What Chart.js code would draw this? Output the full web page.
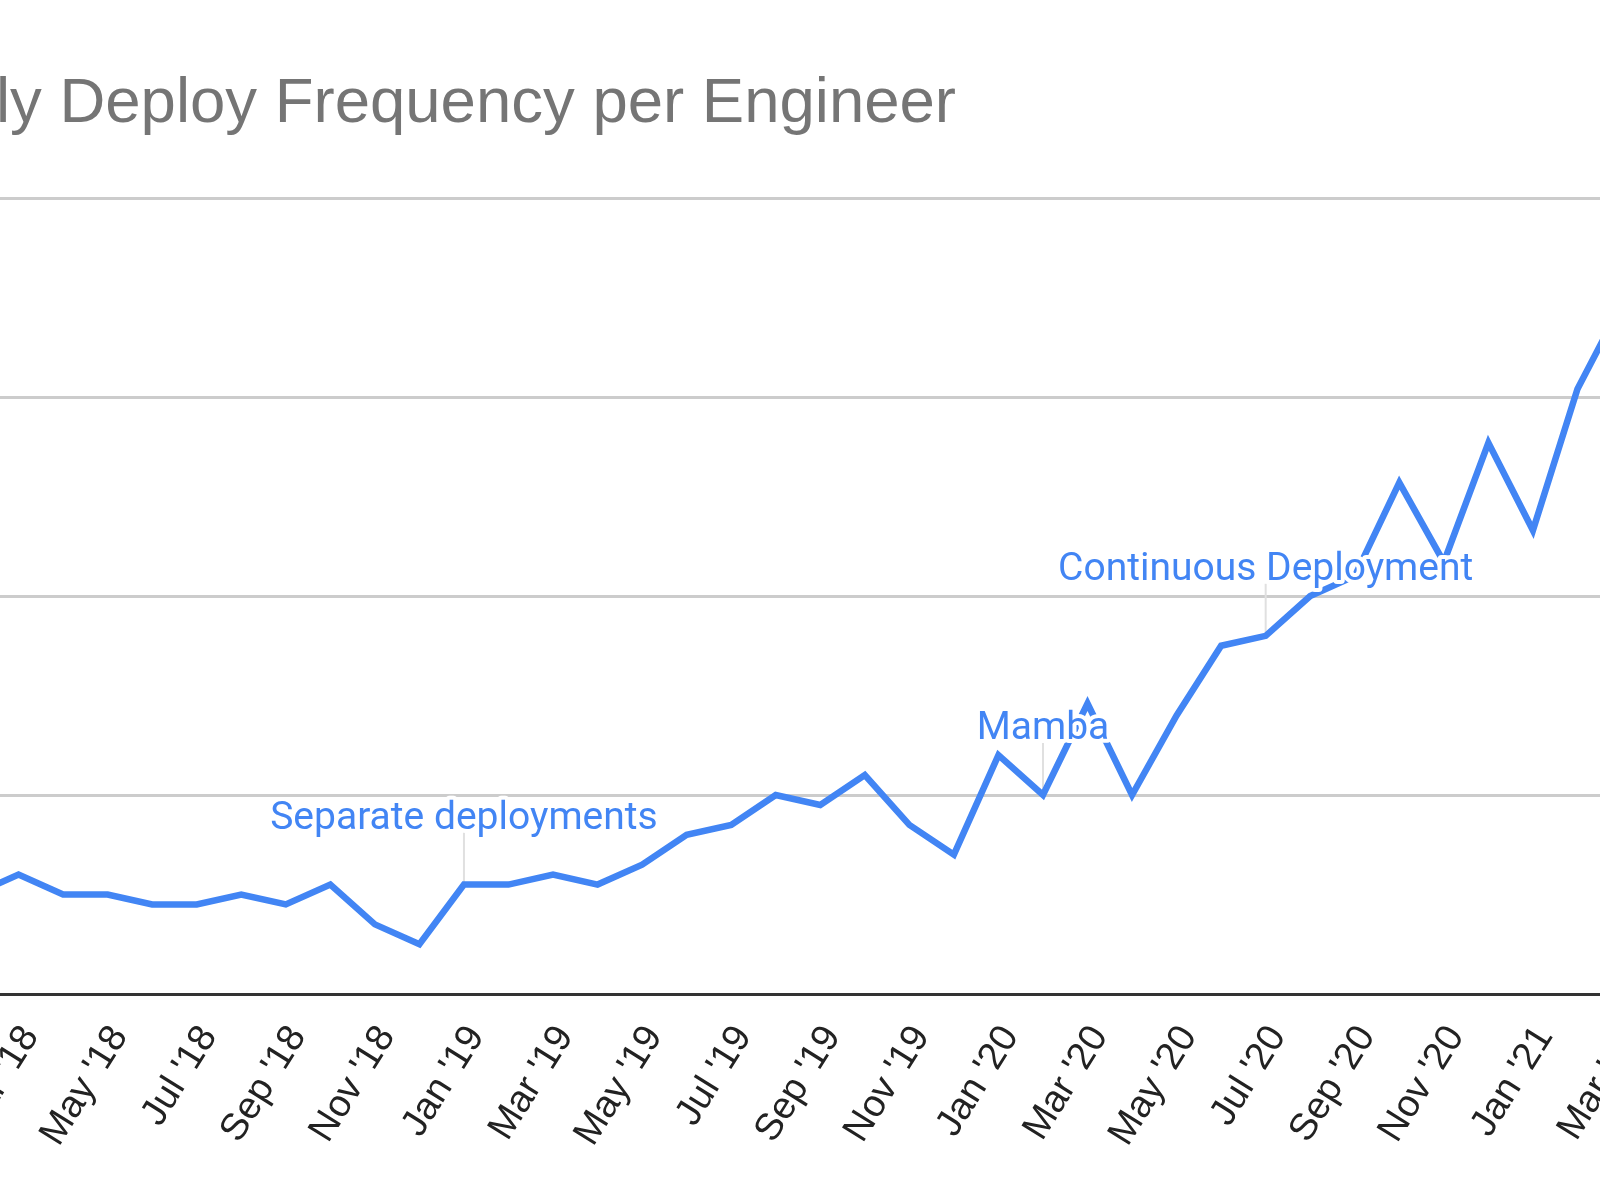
<!DOCTYPE html>
<html>
<head>
<meta charset="utf-8">
<title>Deploy Frequency per Engineer</title>
<script src="https://cdn.jsdelivr.net/npm/chart.js@4.4.1/dist/chart.umd.min.js"></script>
<style>
    html, body { margin: 0; padding: 0; background: #fff; overflow: hidden; }
    #page { position: relative; width: 1600px; height: 1200px; overflow: hidden; }
    #title {
        position: absolute;
        left: 956px;
        top: 69px;
        transform: translateX(-100%);
        white-space: nowrap;
        font-family: "Liberation Sans", Arial, sans-serif;
        font-size: 63.5px;
        line-height: 63px;
        color: #757575;
    }
    #chartBox { position: absolute; left: -226px; top: 0; width: 1904px; height: 1174px; }
</style>
</head>
<body>
<div id="page">
    <div id="title">Weekly Deploy Frequency per Engineer</div>
    <div id="chartBox"><canvas id="deployChart"></canvas></div>
</div>
<script>
// Monthly categories (the picture is cropped on both sides)
const months = [
    "Feb '18", "Mar '18", "Apr '18", "May '18", "Jun '18", "Jul '18", "Aug '18", "Sep '18", "Oct '18", "Nov '18", "Dec '18",
    "Jan '19", "Feb '19", "Mar '19", "Apr '19", "May '19", "Jun '19", "Jul '19", "Aug '19", "Sep '19", "Oct '19", "Nov '19", "Dec '19",
    "Jan '20", "Feb '20", "Mar '20", "Apr '20", "May '20", "Jun '20", "Jul '20", "Aug '20", "Sep '20", "Oct '20", "Nov '20", "Dec '20",
    "Jan '21", "Feb '21", "Mar '21"
];

// Deploys per engineer (one gridline = 1)
const deploys = [
    0.50, 0.60, 0.50, 0.50, 0.45, 0.45, 0.50, 0.45, 0.55, 0.35, 0.25,
    0.55, 0.55, 0.60, 0.55, 0.65, 0.80, 0.85, 1.00, 0.95, 1.10, 0.85, 0.70,
    1.20, 1.00, 1.46, 1.00, 1.40, 1.75, 1.80, 2.00, 2.10, 2.57, 2.17, 2.77,
    2.33, 3.04, 3.47
];

const yTicks = [0, 1, 2, 3, 4];

const annotationMonths = ["Jan '19", "Feb '20", "Jul '20"];
const annotationTexts = ["Separate deployments", "Mamba", "Continuous Deployment"];

const BLUE = "#4285F4";

// Draws the Google-style annotations: a thin stem from the point and a label above it
const annotationPlugin = {
    id: "pointAnnotations",
    beforeDatasetsDraw(chart) {
        const { ctx, scales } = chart;
        ctx.save();
        ctx.strokeStyle = "#e0e0e0";
        ctx.lineWidth = 2;
        annotationMonths.forEach(m => {
            const i = months.indexOf(m);
            const px = scales.x.getPixelForValue(i);
            const py = scales.y.getPixelForValue(deploys[i]);
            ctx.beginPath();
            ctx.moveTo(px, py);
            ctx.lineTo(px, py - 52);
            ctx.stroke();
        });
        ctx.restore();
    },
    afterDatasetsDraw(chart) {
        const { ctx, scales } = chart;
        ctx.save();
        ctx.font = "39px Roboto";
        ctx.textAlign = "center";
        ctx.textBaseline = "alphabetic";
        ctx.lineJoin = "round";
        annotationMonths.forEach((m, k) => {
            const i = months.indexOf(m);
            const px = scales.x.getPixelForValue(i);
            const py = scales.y.getPixelForValue(deploys[i]);
            // white halo so the line disappears behind the text
            ctx.strokeStyle = "#ffffff";
            ctx.lineWidth = 8;
            ctx.strokeText(annotationTexts[k], px, py - 56);
            ctx.fillStyle = BLUE;
            ctx.fillText(annotationTexts[k], px, py - 56);
        });
        ctx.restore();
    }
};

const ctx = document.getElementById("deployChart").getContext("2d");

new Chart(ctx, {
    type: "line",
    data: {
        labels: months,
        datasets: [{
            label: "Deploys per engineer",
            data: deploys,
            borderColor: BLUE,
            borderWidth: 6.5,
            borderJoinStyle: "miter",
            pointRadius: 0,
            pointHoverRadius: 0,
            tension: 0,
            fill: false
        }]
    },
    options: {
        responsive: true,
        maintainAspectRatio: false,
        animation: false,
        layout: { padding: { top: 198, right: 56, left: 0, bottom: 0 } },
        plugins: {
            legend: { display: false },
            title: { display: false },
            tooltip: { enabled: false }
        },
        scales: {
            x: {
                offset: false,
                grid: { display: false },
                border: { display: false },
                afterFit: s => { s.height = 180; },
                ticks: {
                    autoSkip: false,
                    minRotation: 58,
                    maxRotation: 58,
                    padding: 16,
                    labelOffset: 12,
                    color: "#222222",
                    font: { family: "'Liberation Sans', Arial, sans-serif", size: 38 },
                    callback: (val, i) => (i % 2 === 1 ? months[i] : "")
                }
            },
            y: {
                min: yTicks[0],
                max: yTicks[yTicks.length - 1],
                afterFit: s => { s.width = 200; },
                afterBuildTicks: s => { s.ticks = yTicks.map(v => ({ value: v })); },
                border: { display: false },
                grid: {
                    drawTicks: false,
                    color: c => (c.tick && c.tick.value === 0 ? "#333333" : "#cccccc"),
                    lineWidth: c => 3
                },
                ticks: { display: false }
            }
        }
    },
    plugins: [annotationPlugin]
});
</script>
</body>
</html>
